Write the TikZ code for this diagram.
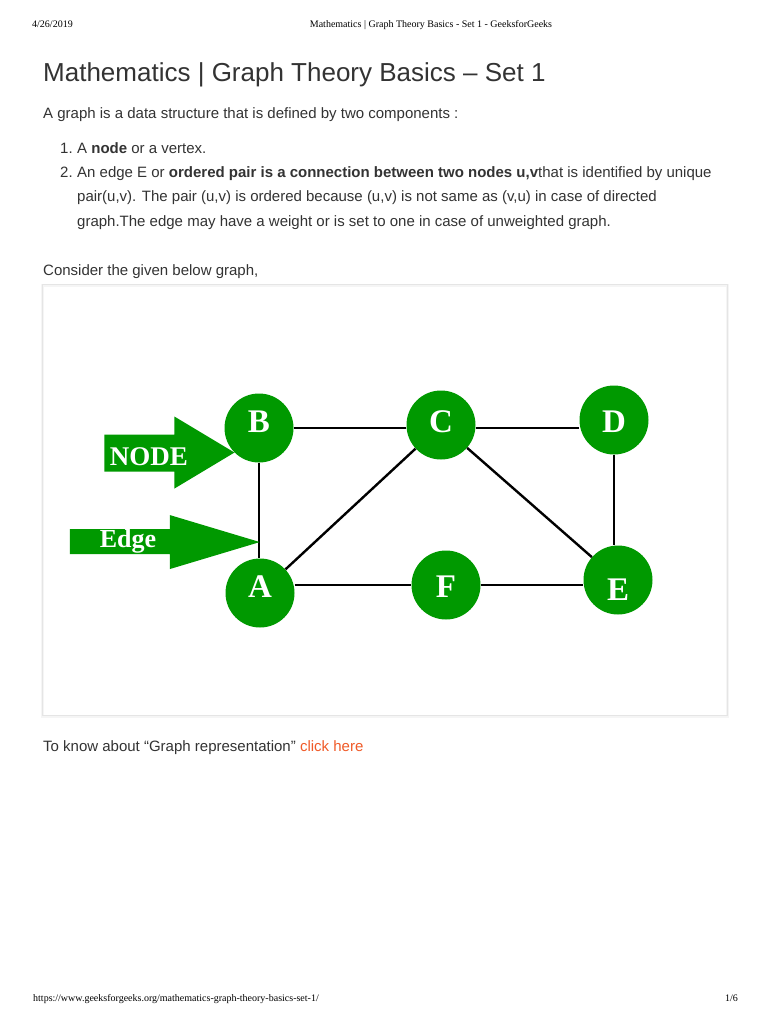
\documentclass[tikz,border=0pt]{standalone}
\usepackage{fontspec}
\setmainfont{Liberation Sans}
\newfontfamily\serifface{Liberation Serif}
\usetikzlibrary{calc}

\definecolor{gfggreen}{HTML}{009900}
\definecolor{bodytext}{HTML}{333333}
\definecolor{linkcol}{HTML}{F05A28}

\begin{document}
\begin{tikzpicture}[
  x=1pt, y=-1pt,
  vertex/.style={circle, fill=gfggreen, minimum size=69pt, inner sep=0pt, text depth=0pt, text height=8pt, text=white, font=\fontsize{33}{33}\serifface\bfseries},
  link/.style={line width=2.4pt, black},
  bigarrow/.style={fill=gfggreen},
  arrowlbl/.style={anchor=base, text=white, inner sep=0pt, font=\fontsize{27}{27}\serifface\bfseries},
  txt/.style={anchor=base west, inner sep=0pt, text=bodytext, font=\fontsize{15}{15}\selectfont},
  pagetxt/.style={anchor=base west, inner sep=0pt, font=\fontsize{10}{10}\serifface}
]
\useasboundingbox[fill=white] (0,0) rectangle (768,1024);

% page header and footer
\node[pagetxt] (date) at (32,28) {4/26/2019};
\node[pagetxt, anchor=base] (head) at (431,28) {Mathematics | Graph Theory Basics - Set 1 - GeeksforGeeks};
\node[pagetxt] (url) at (33,1001) {https://www.geeksforgeeks.org/mathematics-graph-theory-basics-set-1/};
\node[pagetxt, anchor=base east] (pageno) at (738,1001) {1/6};

% article text
\node[txt, font=\fontsize{26}{26}\selectfont] (title) at (43,82) {Mathematics | Graph Theory Basics – Set 1};
\node[txt] (intro) at (43,119) {A graph is a data structure that is defined by two components :};
\node[txt] (n1) at (60,154) {1.};
\node[txt] (item1) at (77,154) {A \textbf{node} or a vertex.};
\node[txt] (n2) at (60,178) {2.};
\node[txt] (item2a) at (77,178) {An edge E or \textbf{ordered pair is a connection between two nodes u,v}that is identified by unique};
\node[txt] (item2b) at (77,202) {pair(u,v). The pair (u,v) is ordered because (u,v) is not same as (v,u) in case of directed};
\node[txt] (item2c) at (77,226) {graph.The edge may have a weight or is set to one in case of unweighted graph.};
\node[txt] (consider) at (43,275) {Consider the given below graph,};
\node[txt] (more) at (43,751) {To know about “Graph representation” \textcolor{linkcol}{click here}};

% figure frame
\draw[black!4, line width=3pt] (42,285) rectangle (727,716);
\draw[black!10] (42,284) rectangle (727,715);

% graph
\node[vertex] (B) at (259,428) {B};
\node[vertex, text height=14pt] (C) at (441,425) {C};
\node[vertex, text height=25pt] (D) at (614,420) {D};
\node[vertex] (A) at (260,593) {A};
\node[vertex, text height=25pt] (F) at (446,585) {F};
\node[vertex, text height=41pt] (E) at (618,580) {E};

\draw[link] (B.east) -- (B.east -| C.west);
\draw[link] (C.east |- B.east) -- (D.west |- B.east);
\draw[link] (B.south) -- (B.south |- A.north);
\draw[link] (A) -- (C);
\draw[link] (C) -- (E);
\draw[link] (D.south) -- (D.south |- E.north);
\draw[link] (A.east |- F) -- (F);
\draw[link] (F) -- (E.west |- F);

% pointers
\coordinate (edgetip) at ($(B.south)!0.83!(A.north)$);
\fill[bigarrow] (B.225) -- ++(-60,-36) -- ++(0,18) -- ++(-70,0) -- ++(0,37) -- ++(70,0) -- ++(0,17) -- cycle;
\fill[bigarrow] (edgetip) -- ++(-90,-27) -- ++(0,14) -- ++(-100,0) -- ++(0,25) -- ++(100,0) -- ++(0,15) -- cycle;
\node[arrowlbl] (nodelbl) at (149,465) {NODE};
\node[arrowlbl, font=\fontsize{26}{26}\serifface\bfseries] (edgelbl) at (128,547) {Edge};
\end{tikzpicture}
\end{document}
